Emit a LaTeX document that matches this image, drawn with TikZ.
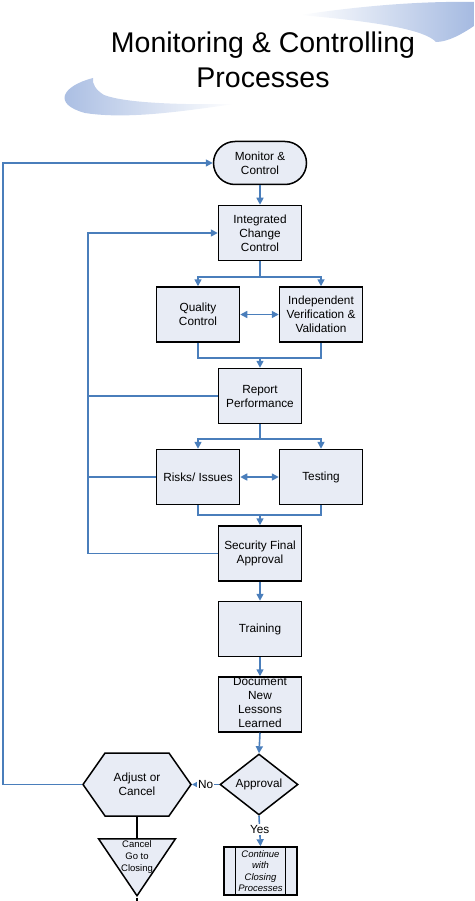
\documentclass[tikz,border=0pt]{standalone}
\usepackage{fontspec}
\setmainfont{Liberation Sans}
\usetikzlibrary{shapes.geometric,shapes.symbols,arrows.meta,calc}
\definecolor{conn}{RGB}{74,126,187}
\definecolor{boxfill}{RGB}{232,236,245}
\definecolor{swoosh}{RGB}{165,186,225}
\begin{document}
\begin{tikzpicture}[x=1pt,y=-1pt,
  shp/.style={draw=black, fill=boxfill, line width=1.5pt},
  box/.style={shp, rectangle, minimum width=83pt, minimum height=55pt, inner sep=0pt, align=center, font=\fontsize{11.8}{14}\selectfont},
  txt/.style={align=center, inner sep=0pt, font=\fontsize{11.8}{14}\selectfont},
  small/.style={align=center, inner sep=0pt, font=\fontsize{9.5}{11.6}\selectfont},
  conline/.style={draw=conn, line width=1.6pt},
  arr/.style={conline, -{Triangle[width=7pt,length=7pt]}},
  darr/.style={conline, {Triangle[width=7pt,length=7pt]}-{Triangle[width=7pt,length=7pt]}},
  lbl/.style={fill=white, inner sep=1pt, font=\fontsize{11.8}{14}\selectfont}
]
\useasboundingbox (0,0) rectangle (474,901);
% swooshes
\shade[left color=white, right color=swoosh] (300,15) .. controls (360,6) and (420,1) .. (474,2) -- (474,26) .. controls (462,34) and (448,42) .. (436,42) .. controls (425,30) and (380,22) .. (300,15) -- cycle;
\shade[left color=swoosh, right color=white] (93,78) .. controls (62,86) and (52,104) .. (85,113) .. controls (130,120) and (190,110) .. (235,104) .. controls (180,105) and (125,103) .. (104,95) .. controls (96,90) and (92,84) .. (93,78) -- cycle;
% title
\node[align=center, font=\fontsize{28.5}{35}\selectfont, inner sep=0pt] (title) at (263,60) {Monitoring \& Controlling\\Processes};
% nodes
\node[box, rounded corners=21.5pt, minimum width=93pt, minimum height=43pt] (mc) at (260,163) {Monitor \&\\Control};
\node[box] (icc) at (260,233) {Integrated\\Change\\Control};
\node[box] (qc) at (198,314.5) {Quality\\Control};
\node[box] (ivv) at (321,314.5) {Independent\\Verification \&\\Validation};
\node[box] (rp) at (260,396) {Report\\Performance};
\node[box] (ri) at (198,477) {Risks/ Issues};
\node[box] (tst) at (321,477) {Testing};
\node[box] (sfa) at (260,553.5) {Security Final\\Approval};
\node[box] (trn) at (260,629) {Training};
\node[box] (doc) at (260,704.5) {};
\node[txt] (doctxt) at (260,702) {Document\\New\\Lessons\\Learned};
\node[shp, diamond, minimum width=78pt, minimum height=61pt, inner sep=0pt] (appr) at (259,784.5) {};
\node[txt] (apprtxt) at (259,784.5) {Approval};
\node[shp, signal, signal to=west and east, signal pointer angle=110, minimum width=108pt, minimum height=63pt, inner sep=0pt] (adj) at (137,784.5) {};
\node[txt] (adjtxt) at (137,784.5) {Adjust or\\Cancel};
\node[shp, isosceles triangle, shape border rotate=-90, isosceles triangle stretches, minimum width=77pt, minimum height=57pt, inner sep=0pt, anchor=lower side] (tri) at (137,838) {};
\node[small] (tritxt) at (137,857) {Cancel\\Go to\\Closing};
\node[shp, rectangle, minimum width=73pt, minimum height=48pt, inner sep=0pt] (cont) at (260.5,871) {};
\draw[line width=1.2pt] ($(cont.north west)+(12,0)$) -- ($(cont.south west)+(12,0)$);
\draw[line width=1.2pt] ($(cont.north east)+(-12,0)$) -- ($(cont.south east)+(-12,0)$);
\node[small, font=\fontsize{9.5}{11.6}\selectfont\itshape] (conttxt) at (260.5,871) {Continue\\with\\Closing\\Processes};
% connectors
\coordinate (b1) at (260,277);
\coordinate (m1) at (260,358);
\coordinate (b2) at (260,439);
\coordinate (m2) at (260,515);
\coordinate (outer) at (3,0);
\coordinate (inner) at (88,0);
\draw[arr] (mc.south) -- (icc.north);
\draw[conline] (icc.south) -- (b1);
\draw[arr] (b1) -| (qc.north);
\draw[arr] (b1) -| (ivv.north);
\draw[darr] (qc.east) -- (ivv.west);
\draw[conline] (qc.south) |- (m1);
\draw[conline] (ivv.south) |- (m1);
\draw[arr] (m1) -- (rp.north);
\draw[conline] (rp.south) -- (b2);
\draw[arr] (b2) -| (ri.north);
\draw[arr] (b2) -| (tst.north);
\draw[darr] (ri.east) -- (tst.west);
\draw[conline] (ri.south) |- (m2);
\draw[conline] (tst.south) |- (m2);
\draw[arr] (m2) -- (sfa.north);
\draw[arr] (sfa.south) -- (trn.north);
\draw[arr] (trn.south) -- (doc.north);
\draw[arr] (doc.south) -- (appr.north);
\draw[arr] (appr.west) -- node[lbl] {No} (adj.east);
\draw[arr] (appr.south) -- node[lbl, pos=0.45] {Yes} (cont.north);
\draw[line width=1.4pt] (adj.south) -- (tri.lower side);
\coordinate (tribot) at (137,901);
\draw[line width=1.4pt] (tri.apex) -- (tribot);
\draw[arr] (adj.west) -- (adj.west -| outer) |- (mc.west);
\draw[arr] (sfa.west) -- (sfa.west -| inner) |- (icc.west);
\draw[conline] (rp.west) -- (rp.west -| inner);
\draw[conline] (ri.west) -- (ri.west -| inner);
\end{tikzpicture}
\end{document}
